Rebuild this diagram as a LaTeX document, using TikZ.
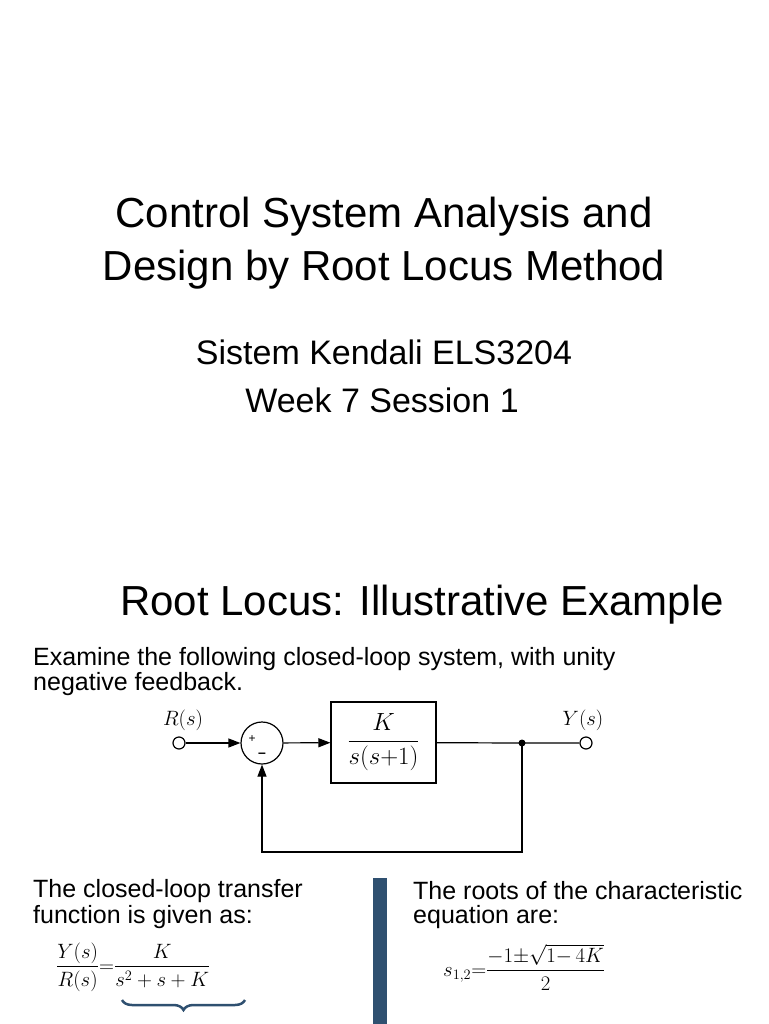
\documentclass[tikz,border=0pt]{standalone}
\usepackage{fontspec}
\setmainfont{Liberation Sans}
\usepackage{amsmath}
\usetikzlibrary{arrows.meta,decorations.pathreplacing}
\definecolor{barblue}{RGB}{47,80,112}
\begin{document}
\begin{tikzpicture}[x=1pt,y=-1pt,
  big/.style={font=\fontsize{42}{46}\selectfont,anchor=center},
  mid/.style={font=\fontsize{34}{36}\selectfont,anchor=center},
  body/.style={font=\fontsize{25}{27}\selectfont,anchor=west,inner sep=0},
  term/.style={circle,draw,line width=1.2pt,minimum size=12pt,inner sep=0},
  arr/.style={line width=1.2pt,-{Triangle[length=12pt,width=9pt]}},
  ln/.style={line width=1.2pt}]
\useasboundingbox (0,0) rectangle (768,1024);
\node[big] (t1) at (384,217) {Control System Analysis and};
\node[big] (t2) at (384,270) {Design by Root Locus Method};
\node[mid] (s1) at (384,352) {Sistem Kendali ELS3204};
\node[mid] (s2) at (382,400) {Week 7 Session 1};
\node[big] (h) at (422,605) {Root Locus: Illustrative Example};
\node[body] (b1) at (33,659) {Examine the following closed-loop system, with unity};
\node[body] (b2) at (33,684) {negative feedback.};
% block diagram
\node[term] (R) at (179,743) {};
\node[circle,draw,line width=1.2pt,minimum size=42pt,inner sep=0] (S) at (262,743) {};
\node[font=\fontsize{12}{12}\selectfont] at (252,739) {+};
\node[font=\fontsize{14}{14}\selectfont] at (262,755) {\textbf{\textendash}};
\node[draw,line width=1.2pt,minimum width=105pt,minimum height=81pt,inner sep=0] (G) at (383.5,742.5)
  {\fontsize{27}{29}\selectfont$\dfrac{K}{s(s{+}1)}$};
\coordinate (J) at (522,743);
\node[term] (Y) at (586,743) {};
\node[font=\fontsize{21}{21}\selectfont] (Rl) at (183,720) {$R(s)$};
\node[font=\fontsize{21}{21}\selectfont] (Yl) at (583,720) {$Y(s)$};
\draw[arr] (R) -- (S);
\draw[arr] (S) -- (G);
\draw[ln] (G) -- (J) -- (Y);
\fill (J) circle (3.5pt);
\coordinate (F1) at (522,852);
\coordinate (F2) at (262,852);
\draw[arr] (J) -- (F1) -- (F2) -- (S.south);
% bottom
\node[body] (c1) at (33,891) {The closed-loop transfer};
\node[body] (c2) at (33,917) {function is given as:};
\fill[barblue] (373,878) rectangle (387,1024);
\node[body] (r1) at (413,891) {The roots of the characteristic};
\node[body] (r2) at (413,917) {equation are:};
\node[font=\fontsize{22.5}{24}\selectfont,anchor=west,inner sep=0] (e1) at (56,967)
  {$\dfrac{Y(s)}{R(s)}{=}\dfrac{K}{s^2+s+K}$};
\draw[barblue,line width=2.5pt,decorate,decoration={brace,mirror,amplitude=10pt}]
  (122,1000) -- (245,1000);
\node[font=\fontsize{21}{23}\selectfont,anchor=west,inner sep=0] (e2) at (443,967)
  {$s_{1,2}{=}\dfrac{-1{\pm}\sqrt{1{-}\,4K}}{2}$};
\end{tikzpicture}
\end{document}
